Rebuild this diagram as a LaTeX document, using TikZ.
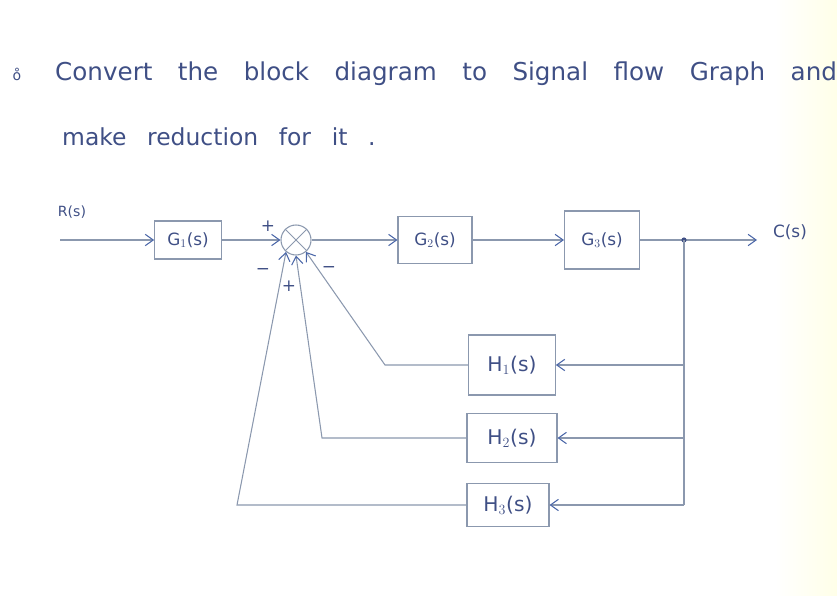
\documentclass[tikz,border=0pt]{standalone}
\usepackage{fontspec}
\setmainfont{DejaVu Sans}
\usepackage{tikz}
\usetikzlibrary{arrows.meta, calc, positioning}
\definecolor{pen}{HTML}{3F4F85}
\definecolor{wire}{HTML}{8B98AE}
\definecolor{tip}{HTML}{4A66A8}

\begin{document}
\begin{tikzpicture}[x=0.03cm, y=-0.03cm,
    >={Straight Barb[length=2.4mm, width=3.4mm, color=tip]},
    blk/.style={draw=wire, line width=0.9pt, text=pen, font=\Large, inner sep=2pt},
    fbk/.style={blk, font=\LARGE},
    sumj/.style={circle, draw=wire, line width=0.9pt, minimum size=0.9cm, inner sep=0pt},
    wr/.style={wire, line width=0.9pt},
    sgn/.style={pen, font=\Large, inner sep=0pt}]

  % --- page and tinted paper edge ----------------------------------------------
  \useasboundingbox (0,0) rectangle (837,596);
  \fill[left color=white, right color=yellow!9!white] (775,0) rectangle (837,596);

  % --- the task, as written above the diagram ----------------------------------
  \node[pen, font=\large, inner sep=0pt] (bul) at (17,74) {\r{o}};
  \node[pen, font=\fontsize{21}{24}\selectfont, anchor=base west, inner sep=0pt] (ttl) at (55,81)
    {\makebox[23.45cm][s]{Convert the block diagram to Signal flow Graph and}};
  \node[pen, font=\fontsize{20}{24}\selectfont, anchor=base west, inner sep=0pt] (ttl2) at (62,146)
    {\makebox[9.4cm][s]{make reduction for it .}};

  % --- forward path ------------------------------------------------------------
  \coordinate (rs) at (60,240);
  \node[pen, font=\large] (rlab) at (72,212) {R(s)};
  \node[blk, minimum width=2.0cm, minimum height=1.14cm] (g1) at (188,240) {G$_1$(s)};
  \node[sumj] (sum) at (296,240) {};
  \draw[wr] (sum.north west) -- (sum.south east) (sum.north east) -- (sum.south west);
  \node[blk, minimum width=2.22cm, minimum height=1.41cm] (g2) at (435,240) {G$_2$(s)};
  \node[blk, minimum width=2.25cm, minimum height=1.74cm] (g3) at (602,240) {G$_3$(s)};
  \coordinate (tap) at (684,240);
  \coordinate (cs) at (757,240);
  \node[pen, font=\Large] (clab) at (790,232) {C(s)};

  \draw[wr, ->] (rs) -- (g1);
  \draw[wr, ->] (g1) -- (sum);
  \draw[wr, ->] (sum) -- (g2);
  \draw[wr, ->] (g2) -- (g3);
  \draw[wr, ->] (g3) -- (cs);
  \fill[pen] (tap) circle (2.2pt);

  % --- feedback blocks ---------------------------------------------------------
  \node[fbk, minimum width=2.6cm, minimum height=1.8cm] (h1) at (512,365) {H$_1$(s)};
  \node[fbk, minimum width=2.7cm, minimum height=1.47cm] (h2) at (512,438) {H$_2$(s)};
  \node[fbk, minimum width=2.46cm, minimum height=1.3cm] (h3) at (508,505) {H$_3$(s)};

  \draw[wr] (tap) -- (tap |- h3.east);
  \draw[wr, ->] (tap |- h1.east) -- (h1.east);
  \draw[wr, ->] (tap |- h2.east) -- (h2.east);
  \draw[wr, ->] (tap |- h3.east) -- (h3.east);

  \coordinate (b1) at (385,365);
  \coordinate (b2) at (322,438);
  \coordinate (b3) at (237,505);
  \draw[wr, ->] (h1.west) -- (b1) -- (sum.-50);
  \draw[wr, ->] (h2.west) -- (b2) -- (sum.-90);
  \draw[wr, ->] (h3.west) -- (b3) -- (sum.-130);

  % --- signs at the summing point ----------------------------------------------
  \node[sgn] (s1) at (268,226) {+};
  \node[sgn] (s2) at (263,272) {−};
  \node[sgn] (s3) at (289,286) {+};
  \node[sgn] (s4) at (329,270) {−};

\end{tikzpicture}
\end{document}
